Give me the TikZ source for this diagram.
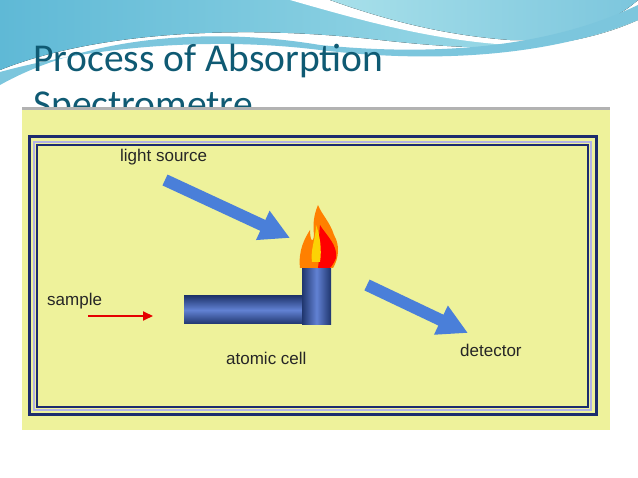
\documentclass[tikz,border=0pt]{standalone}
\usepackage{fontspec}
\setmainfont{Carlito}
\newfontfamily\arialf{Liberation Sans}
\usetikzlibrary{arrows.meta,shapes.geometric}
\definecolor{panel}{HTML}{EEF29B}
\definecolor{navy}{HTML}{1C2C6E}
\definecolor{titlec}{HTML}{0F5A73}
\definecolor{beam}{HTML}{4A7FD9}
\definecolor{pipe}{HTML}{3A62C8}
\definecolor{wave1}{HTML}{5FB9D6}
\definecolor{wave2}{HTML}{A8E0EA}
\definecolor{wave3}{HTML}{7CC6DD}
\tikzset{
  lbl/.style={font=\arialf\fontsize{17}{19}\selectfont, anchor=west, inner sep=0pt, text=black!85},
}
\begin{document}
\begin{tikzpicture}[x=1pt,y=-1pt]
\useasboundingbox (0,0) rectangle (638,478);
\fill[white] (0,0) rectangle (638,478);
% top waves
\fill[left color=wave1, right color=wave2] (0,0) -- (638,0) -- (638,20) .. controls (560,55) and (470,50) .. (380,40) .. controls (250,25) and (100,30) .. (0,70) -- cycle;
\fill[white] (290,0) .. controls (360,20) and (430,40) .. (510,45) .. controls (560,48) and (610,30) .. (638,5) -- (638,0) -- cycle;
\fill[left color=wave2, right color=wave3] (330,0) .. controls (380,18) and (440,35) .. (510,40) .. controls (560,42) and (610,25) .. (638,0) -- cycle;
\fill[wave3] (0,85) .. controls (80,40) and (200,25) .. (320,45) .. controls (420,55) and (540,52) .. (638,5) -- (638,20) .. controls (540,60) and (420,62) .. (320,50) .. controls (200,35) and (80,50) .. (0,72) -- cycle;
% title
\node[anchor=base west, inner sep=0pt, text=titlec, font=\fontsize{39.5}{42}\selectfont] (t1) at (33,72) {Process of Absorption};
\node[anchor=base west, inner sep=0pt, text=titlec, font=\fontsize{39.5}{42}\selectfont] (t2) at (33,118) {Spectrometre};
% panel
\fill[panel] (22,108) rectangle (610,430);
\fill[gray!60] (22,107) rectangle (610,110);
% frame
\draw[navy, line width=3pt] (29,137) rectangle (596,415);
\draw[gray!50!blue!40, line width=1.5pt] (34,142) rectangle (591,410);
\draw[navy, line width=1.2pt] (37,145) rectangle (588,407);
% labels
\node[lbl] (ls) at (120,157) {light source};
\node[lbl] (sm) at (47,301) {sample};
\node[lbl] (ac) at (226,358) {atomic cell};
\node[lbl] (dt) at (460,350) {detector};
% beams
\coordinate (b1s) at (165,180);
\coordinate (b1e) at (290,238);
\coordinate (b2s) at (367,285);
\coordinate (b2e) at (468,333);
\draw[beam, line width=12pt, -{Triangle[width=30pt,length=30pt]}] (b1s) -- (b1e);
\draw[beam, line width=12pt, -{Triangle[width=30pt,length=30pt]}] (b2s) -- (b2e);
% sample arrow
\coordinate (s1) at (88,316);
\coordinate (s2) at (153,316);
\draw[red!90!black, line width=2pt, -{Triangle[width=9pt,length=10pt]}] (s1) -- (s2);
% pipe
\shade[top color=pipe!55!black, bottom color=pipe!55!black, middle color=pipe!80!white] (184,296) rectangle (303,324);
\shade[left color=pipe!55!black, right color=pipe!55!black, middle color=pipe!80!white] (302,268) rectangle (331,325);
% flame
\fill[orange] (300,268) .. controls (298,250) and (305,238) .. (310,230) .. controls (310,240) and (313,245) .. (314,235) .. controls (312,220) and (316,210) .. (318,205) .. controls (322,215) and (330,222) .. (334,235) .. controls (340,245) and (339,258) .. (333,268) -- cycle;
\fill[red] (318,268) .. controls (320,255) and (318,240) .. (320,225) .. controls (326,235) and (338,245) .. (336,258) .. controls (334,263) and (332,266) .. (330,268) -- cycle;
\fill[yellow!70!orange] (312,262) .. controls (310,250) and (316,238) .. (316,225) .. controls (320,235) and (322,250) .. (320,262) -- cycle;
\end{tikzpicture}
\end{document}
